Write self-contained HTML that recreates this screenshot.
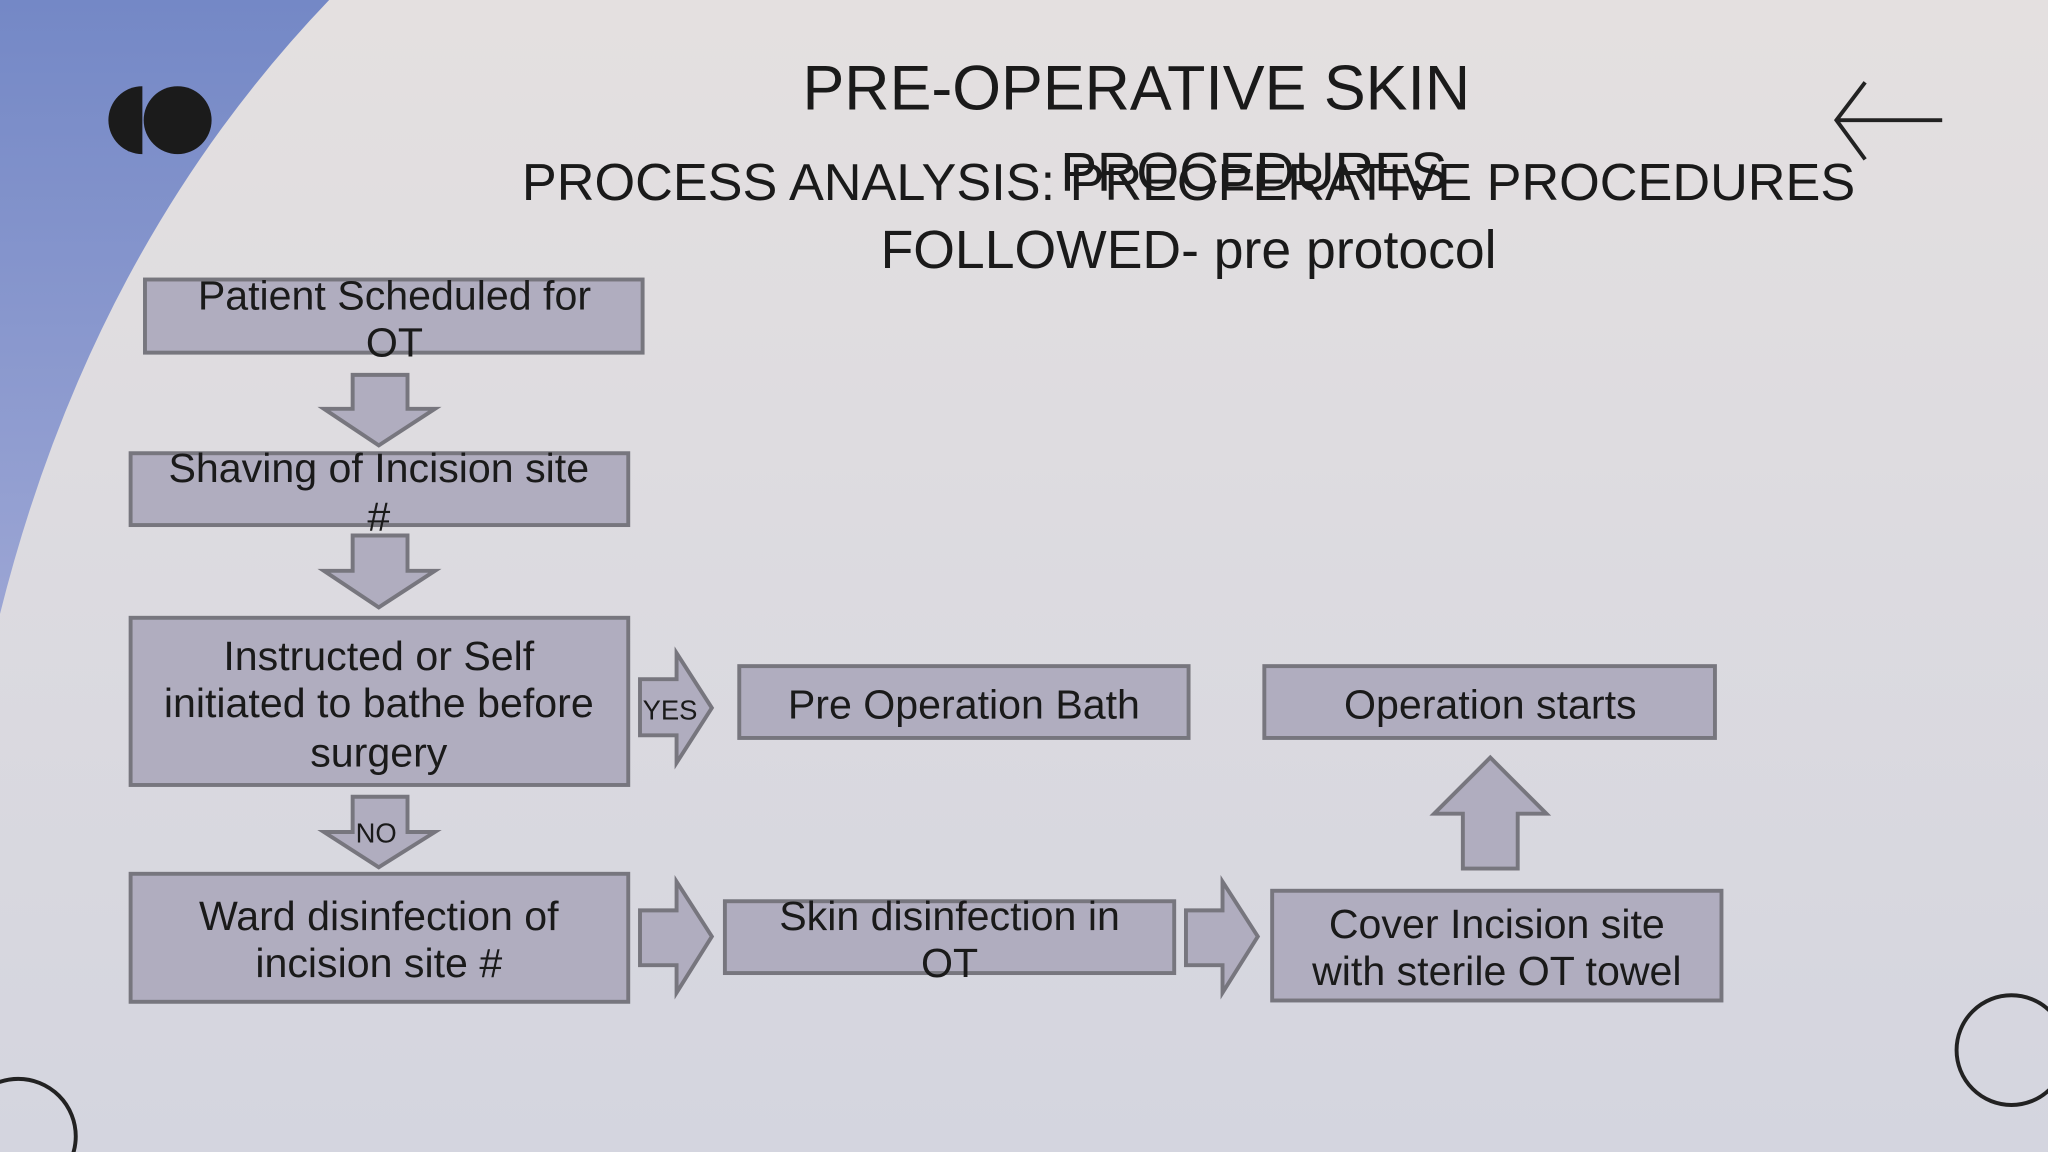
<!DOCTYPE html>
<html><head><meta charset="utf-8"><style>
html,body{margin:0;padding:0;width:2048px;height:1152px;overflow:hidden}
svg{display:block}
text{font-family:"Liberation Sans",sans-serif;fill:#1a1a1a}
</style></head><body>
<svg width="2048" height="1152" viewBox="0 0 1568 882" xmlns="http://www.w3.org/2000/svg">
<defs>
<linearGradient id="bg" x1="0" y1="0" x2="0" y2="1"><stop offset="0" stop-color="#e4e0e0"/><stop offset="1" stop-color="#d4d5df"/></linearGradient>
<linearGradient id="bl" x1="0" y1="0" x2="0" y2="1"><stop offset="0" stop-color="#7488c6"/><stop offset="1" stop-color="#9ba5d4"/></linearGradient>
</defs>
<rect width="1568" height="882" fill="url(#bg)"/>
<path d="M0,0 L252,0 Q70,190 0,470 Z" fill="url(#bl)"/>
<path d="M109,66 A26,26 0 0 0 109,118 Z" fill="#1b1b1b"/>
<circle cx="136" cy="92" r="26" fill="#1b1b1b"/>
<g stroke="#222" stroke-width="3" fill="none">
<path d="M1487,92 L1406,92 M1428,63 L1406,92 L1428,122"/>
<circle cx="1540" cy="804" r="42"/>
<circle cx="14" cy="870" r="44"/>
</g>
<g text-anchor="middle">
<text x="870" y="84" font-size="48">PRE-OPERATIVE SKIN</text>
<text x="960" y="146" font-size="42">PROCEDURES</text>
<text x="910" y="153" font-size="40">PROCESS ANALYSIS: PREOPERATIVE PROCEDURES</text>
<text x="910" y="205" font-size="41">FOLLOWED- pre protocol</text>
</g>
<g fill="#b0adbf" stroke="#77767e" stroke-width="3">
<rect x="111" y="214" width="381" height="56"/>
<rect x="100" y="347" width="381" height="55"/>
<rect x="100" y="473" width="381" height="128"/>
<rect x="566" y="510" width="344" height="55"/>
<rect x="968" y="510" width="345" height="55"/>
<rect x="100" y="669" width="381" height="98"/>
<rect x="555" y="690" width="344" height="55"/>
<rect x="974" y="682" width="344" height="84"/>
<path d="M270,287 H312 V313 H333 L290,341 L248,313 H270 Z"/>
<path d="M270,410 H312 V437 H333 L290,465 L248,437 H270 Z"/>
<path d="M270,610 H312 V637 H333 L290,664 L248,637 H270 Z"/>
<path d="M490,520 H518 V500 L545,542 L518,584 V563 H490 Z"/>
<path d="M490,697 H518 V675 L545,717 L518,760 V739 H490 Z"/>
<path d="M908,697 H936 V675 L963,717 L936,760 V739 H908 Z"/>
<path d="M1141,580 L1184,623 H1162 V665 H1120 V623 H1098 Z"/>
</g>
<g text-anchor="middle" font-size="31.5">
<text x="302" y="237">Patient Scheduled for</text>
<text x="302" y="273">OT</text>
<text x="290" y="369">Shaving of Incision site</text>
<text x="290" y="406">#</text>
<text x="290" y="513">Instructed or Self</text>
<text x="290" y="549">initiated to bathe before</text>
<text x="290" y="587">surgery</text>
<text x="738" y="550">Pre Operation Bath</text>
<text x="1141" y="550">Operation starts</text>
<text x="290" y="712">Ward disinfection of</text>
<text x="290" y="748">incision site #</text>
<text x="727" y="712">Skin disinfection in</text>
<text x="727" y="748">OT</text>
<text x="1146" y="718">Cover Incision site</text>
<text x="1146" y="754">with sterile OT towel</text>
<text x="513" y="551" font-size="21">YES</text>
<text x="288" y="645" font-size="21">NO</text>
</g>
</svg>
</body></html>
